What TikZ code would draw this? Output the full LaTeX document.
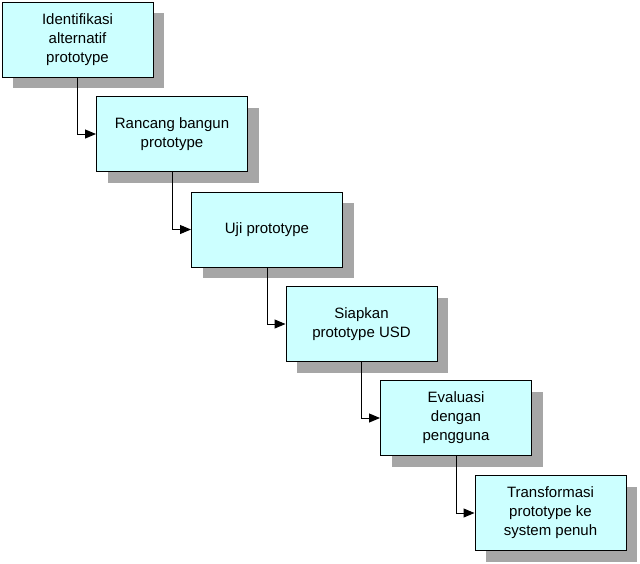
\documentclass[tikz,border=0pt]{standalone}
\usepackage{fontspec}
\setmainfont{Liberation Sans}
\usetikzlibrary{shadows,arrows.meta}
\definecolor{boxfill}{RGB}{204,255,255}
\tikzset{
  stepbox/.style={draw=black, line width=1pt, fill=boxfill, minimum width=151pt, minimum height=75pt,
    align=center, font=\fontsize{15pt}{19pt}\selectfont, inner sep=2pt,
    drop shadow={shadow xshift=11pt, shadow yshift=-11pt, fill=black!35, opacity=1}},
  link/.style={draw=black, line width=1pt, -{Triangle[length=11pt,width=9pt]}}
}
\begin{document}
\begin{tikzpicture}[x=1pt,y=-1pt]
\useasboundingbox (0,0) rectangle (640,563);
\node[stepbox] (a) at (77.5,39.5) {Identifikasi\\alternatif\\prototype};
\node[stepbox] (b) at (172,134) {Rancang bangun\\prototype};
\node[stepbox] (c) at (267,229.5) {Uji prototype};
\node[stepbox] (d) at (361.5,324) {Siapkan\\prototype USD};
\node[stepbox] (e) at (456,418) {Evaluasi\\dengan\\pengguna};
\node[stepbox] (f) at (550.5,513) {Transformasi\\prototype ke\\system penuh};
\draw[link] (a.south) |- (b.west);
\draw[link] (b.south) |- (c.west);
\draw[link] (c.south) |- (d.west);
\draw[link] (d.south) |- (e.west);
\draw[link] (e.south) |- (f.west);
\end{tikzpicture}
\end{document}
